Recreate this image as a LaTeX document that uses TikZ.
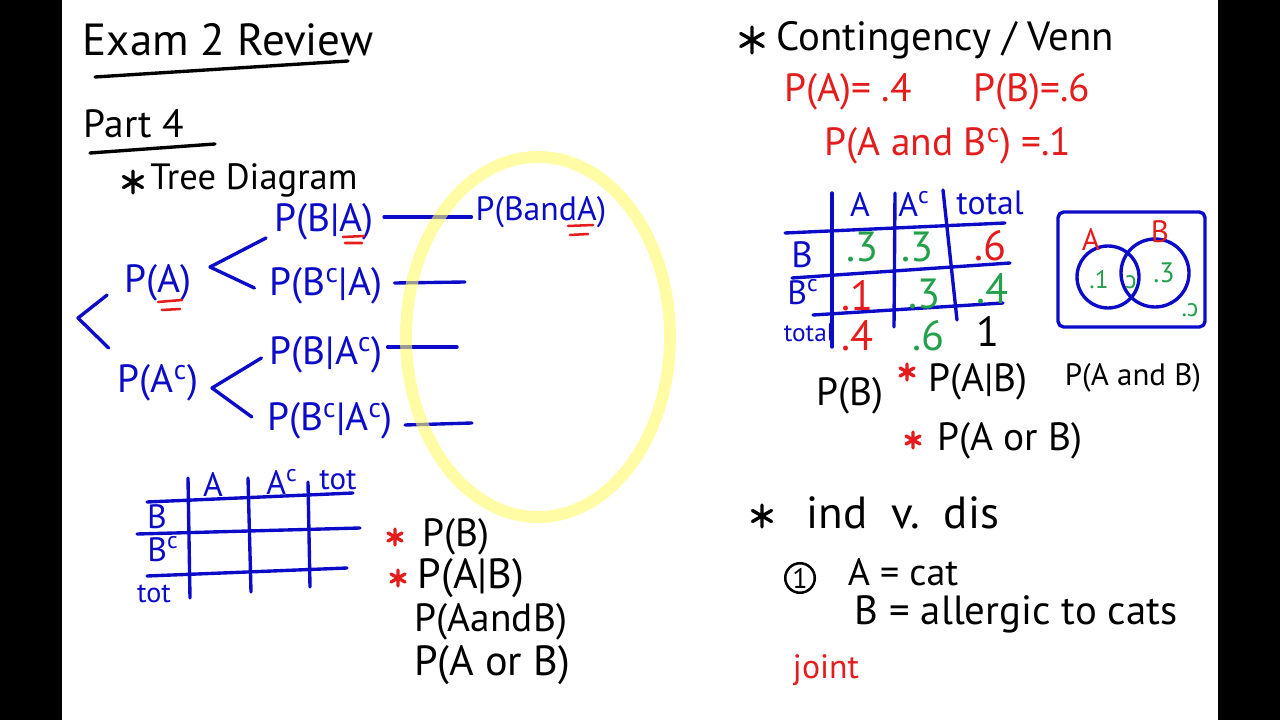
\documentclass[tikz,border=0pt]{standalone}
\usepackage{fontspec}
\setmainfont{PT Sans}
\usetikzlibrary{positioning,calc}
\definecolor{inkblue}{RGB}{12,12,200}
\definecolor{inkred}{RGB}{228,28,28}
\definecolor{inkgreen}{RGB}{36,160,76}
\definecolor{hilite}{RGB}{255,250,105}
\newcommand\inksize[1]{\fontsize{#1}{#1}\selectfont}
\newcommand\sups[1]{\textsuperscript{#1}}
\tikzset{
  ink/.style={inner sep=0pt, font=\inksize{28}},
  blueink/.style={ink, text=inkblue},
  redink/.style={ink, text=inkred},
  greenink/.style={ink, text=inkgreen},
  cell/.style={font=\inksize{30}},
  pen/.style={line width=2.4pt, line cap=round, line join=round},
  inkstar/.pic={\draw[pen] (0,-1) -- (0,1) (-0.87,-0.5) -- (0.87,0.5) (-0.87,0.5) -- (0.87,-0.5);}
}
\begin{document}
\begin{tikzpicture}[x=0.025cm,y=-0.025cm]
\useasboundingbox (0,0) rectangle (1280,720);
\fill[black] (0,0) rectangle (62,720);
\fill[black] (1218,0) rectangle (1280,720);
% headings
\node[ink, font=\inksize{32}] (title) at (228,40) {Exam 2 Review};
\draw[pen] (95,77) -- (348,61);
\node[ink] (part) at (134,124) {Part 4};
\draw[pen] (90,153) -- (215,144);
\pic[scale=11] at (133,182) {inkstar};
\node[ink, font=\inksize{26}] (treehead) at (254,180) {Tree Diagram};
% tree diagram
\node[blueink] (pA) at (158,283) {P(A)};
\node[blueink] (pAc) at (158,383) {P(A\sups{c})};
\node[blueink] (pBA) at (324,222) {P(B|A)};
\node[blueink] (pBcA) at (326,286) {P(B\sups{c}|A)};
\node[blueink] (pBAc) at (326,355) {P(B|A\sups{c})};
\node[blueink] (pBcAc) at (330,421) {P(B\sups{c}|A\sups{c})};
\node[blueink, font=\inksize{24}] (pBandA) at (541,212) {P(BandA)};
\coordinate (root) at (78,318);
\coordinate (fA) at (210,267);
\coordinate (fAc) at (212,388);
\coordinate (e2) at (465,282);
\coordinate (e3) at (457,347);
\coordinate (e4) at (472,423);
\begin{scope}[pen, inkblue]
\draw ($(pA.west)+(-17,12)$) -- (root) -- ($(pAc.west)+(-9,-35)$);
\draw ($(pBA.west)+(-8,16)$) -- (fA) -- ($(pBcA.west)+(-15,2)$);
\draw ($(pBAc.west)+(-8,3)$) -- (fAc) -- ($(pBcAc.west)+(-15,-4)$);
\draw ($(pBA.east)+(10,-5)$) -- ($(pBandA.west)+(-4,5)$);
\draw ($(pBcA.east)+(12,-3)$) -- (e2);
\draw ($(pBAc.east)+(5,-8)$) -- (e3);
\draw ($(pBcAc.east)+(12,4)$) -- (e4);
\end{scope}
\begin{scope}[pen, inkred, line width=1.8pt]
\draw (158,302) -- (182,300) (162,310) -- (180,309);
\draw (343,237) -- (364,236) (345,243) -- (362,243);
\draw (568,226) -- (593,225) (570,235) -- (588,234);
\end{scope}
\draw[hilite, opacity=0.6, line width=8.5pt] (538,337) ellipse[x radius=132, y radius=180];
% left table
\begin{scope}[pen, inkblue]
\draw (188,478) -- (190,598);
\draw (248,478) -- (251,592);
\draw (308,482) -- (310,587);
\draw (147,502) -- (353,493);
\draw (137,534) -- (360,528);
\draw (147,576) -- (347,568);
\end{scope}
\node[blueink, font=\inksize{24}] (ltA) at (213,485) {A};
\node[blueink, font=\inksize{24}] (ltAc) at (282,482) {A\sups{c}};
\node[blueink, font=\inksize{22}] (lttot) at (338,480) {tot};
\node[blueink, font=\inksize{24}] (ltB) at (157,517) {B};
\node[blueink, font=\inksize{24}] (ltBc) at (163,549) {B\sups{c}};
\node[blueink, font=\inksize{20}] (lttotr) at (154,594) {tot};
% left list
\pic[scale=8, inkred] at (395,537) {inkstar};
\node[ink] (lpB) at (456,537) {P(B)};
\pic[scale=8, inkred] at (398,578) {inkstar};
\node[ink, font=\inksize{30}] (lpAgB) at (471,578) {P(A|B)};
\node[ink] (lpAandB) at (491,622) {P(AandB)};
\node[ink, font=\inksize{30}] (lpAorB) at (492,665) {P(A or B)};
% contingency / venn
\pic[scale=13] at (752,40) {inkstar};
\node[ink, font=\inksize{29}] (conthead) at (945,40) {Contingency / Venn};
\node[redink] (givA) at (848,92) {P(A)= .4};
\node[redink] (givB) at (1032,92) {P(B)=.6};
\node[redink] (givAB) at (948,146) {P(A and B\sups{c}) =.1};
\begin{scope}[pen, inkblue]
\draw (832,193) -- (832,347);
\draw (895,193) -- (894,327);
\draw (943,190) -- (957,320);
\draw (785,233) -- (1005,223);
\draw (792,278) -- (1010,263);
\draw (813,315) -- (1003,303);
\end{scope}
\node[blueink, font=\inksize{24}] (rtA) at (860,205) {A};
\node[blueink, font=\inksize{24}] (rtAc) at (914,204) {A\sups{c}};
\node[blueink, font=\inksize{24}] (rttot) at (990,203) {total};
\node[blueink, font=\inksize{26}] (rtB) at (802,255) {B};
\node[blueink, font=\inksize{24}] (rtBc) at (803,292) {B\sups{c}};
\node[blueink, font=\inksize{18}] (rttotr) at (809,333) {total};
\node[greenink, cell] (cBA) at (862,247) {.3};
\node[greenink, cell] (cBAc) at (917,247) {.3};
\node[redink, cell] (cBt) at (990,246) {.6};
\node[redink, cell] (cBcA) at (857,296) {.1};
\node[greenink, cell] (cBcAc) at (924,294) {.3};
\node[greenink, cell] (cBct) at (992,289) {.4};
\node[redink, cell] (ctA) at (857,336) {.4};
\node[greenink, cell] (ctAc) at (928,336) {.6};
\node[ink, cell] (ctt) at (988,331) {1};
\draw[pen, inkblue, rounded corners=4] (1058,212) rectangle (1205,327);
\draw[pen, inkblue] (1108,277) circle[radius=31];
\draw[pen, inkblue] (1155,273) circle[radius=34];
\node[redink, font=\inksize{22}] (vA) at (1091,240) {A};
\node[redink, font=\inksize{22}] (vB) at (1160,232) {B};
\node[greenink, font=\inksize{18}] (vAonly) at (1099,280) {.1};
\node[greenink, font=\inksize{18}] (vboth) at (1131,282) {\reflectbox{c}};
\node[greenink, font=\inksize{20}] (vBonly) at (1164,273) {.3};
\node[greenink, font=\inksize{18}] (vout) at (1190,310) {.\reflectbox{c}};
% probabilities
\node[ink] (rpB) at (850,396) {P(B)};
\pic[scale=8, inkred] at (907,372) {inkstar};
\node[ink] (rpAgB) at (978,382) {P(A|B)};
\node[ink, font=\inksize{22}] (rpAandB) at (1133,378) {P(A and B)};
\pic[scale=8, inkred] at (913,440) {inkstar};
\node[ink] (rpAorB) at (1010,441) {P(A or B)};
% independent vs disjoint
\pic[scale=11] at (762,516) {inkstar};
\node[ink, font=\inksize{32}] (indhead) at (903,513) {ind\ \ v.\ \ dis};
\node[ink, draw, circle, pen, line width=1.8pt, minimum size=21pt, font=\inksize{20}] (num1) at (800,578) {1};
\node[ink, font=\inksize{27}] (evA) at (903,572) {A = cat};
\node[ink, font=\inksize{29}] (evB) at (1016,614) {B = allergic to cats};
\node[redink, font=\inksize{24}] (joint) at (826,670) {joint};
\end{tikzpicture}
\end{document}
